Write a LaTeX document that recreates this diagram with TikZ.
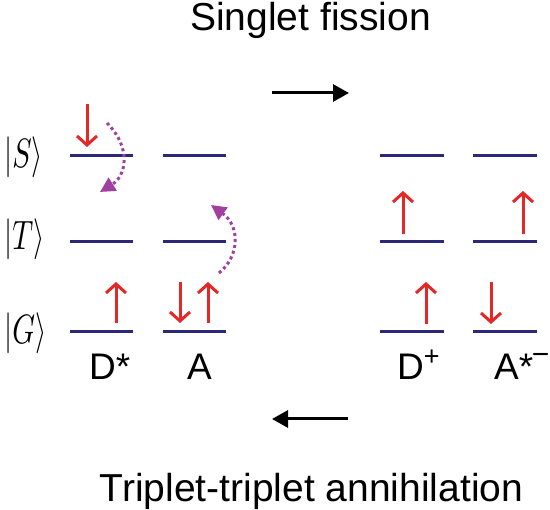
\documentclass[tikz,border=0pt]{standalone}
\usepackage{fontspec}
\usepackage{graphicx}
\setmainfont{Liberation Sans}
\usetikzlibrary{arrows.meta}
\definecolor{navy}{RGB}{44,40,120}
\definecolor{spinred}{RGB}{228,40,40}
\definecolor{transfer}{RGB}{160,64,160}
\tikzset{
  level/.style={navy, line width=3pt},
  spin/.style={spinred, line width=3pt, -{Straight Barb[length=9pt,width=20pt]}},
  hop/.style={transfer, line width=3pt, dash pattern=on 3pt off 3pt, -{Triangle[length=15pt,width=15pt]}},
  flow/.style={black, line width=3pt, -{Triangle[length=16pt,width=17pt]}},
  title/.style={inner sep=0pt, font=\fontsize{39}{46}\selectfont, anchor=base},
  mol/.style={inner sep=0pt, font=\fontsize{37}{44}\selectfont, anchor=base west},
  ket/.style={inner sep=0pt, anchor=west, font=\normalsize}
}
\newcommand{\ketbig}[1]{\scalebox{2.9}[4.1]{$|#1\rangle$}}
\begin{document}
\begin{tikzpicture}[x=1pt, y=-1pt]
\useasboundingbox (0,0) rectangle (550,510);
% titles
\node[title] (sf) at (310.5,31) {Singlet fission};
\node[title] (tta) at (311.5,502) {Triplet-triplet annihilation};
% process arrows
\coordinate (f1) at (272,93); \coordinate (f2) at (349,93);
\coordinate (b1) at (348,419); \coordinate (b2) at (272,419);
\draw[flow] (f1) -- (f2);
\draw[flow] (b1) -- (b2);
% kets
\node[ket] (kS) at (4,157) {\ketbig{S}};
\node[ket] (kT) at (4,239) {\ketbig{T}};
\node[ket] (kG) at (4,333) {\ketbig{G}};
% levels
\foreach \y in {155.5,241.5,331.5}{
  \draw[level] (70,\y) -- (133,\y);
  \draw[level] (163,\y) -- (226,\y);
  \draw[level] (380,\y) -- (444,\y);
  \draw[level] (473,\y) -- (537,\y);
}
% molecule labels
\node[mol] (Ds) at (89,380) {D*};
\node[mol] (A) at (187,380) {A};
\node[mol] (Dp) at (397,380) {D\raisebox{0.38em}{\fontsize{27}{27}\selectfont +}};
\node[mol] (Asm) at (494,380) {A*\raisebox{0.42em}{\fontsize{30}{30}\selectfont\kern-0.05em−}};
% spins, left
\draw[spin] (87,104) -- (87,147);
\draw[spin] (116,323) -- (116,282);
\draw[spin] (180,282) -- (180,323);
\draw[spin] (208,323) -- (208,282);
% spins, right
\draw[spin] (403,234) -- (403,191);
\draw[spin] (523,234) -- (523,191);
\draw[spin] (426,324) -- (426,282);
\draw[spin] (491,282) -- (491,324);
% transfers
\draw[hop] (107,123) .. controls (132,148) and (126,176) .. (100,192);
\draw[hop] (219,273) .. controls (240,256) and (240,226) .. (211,205);
\end{tikzpicture}
\end{document}
